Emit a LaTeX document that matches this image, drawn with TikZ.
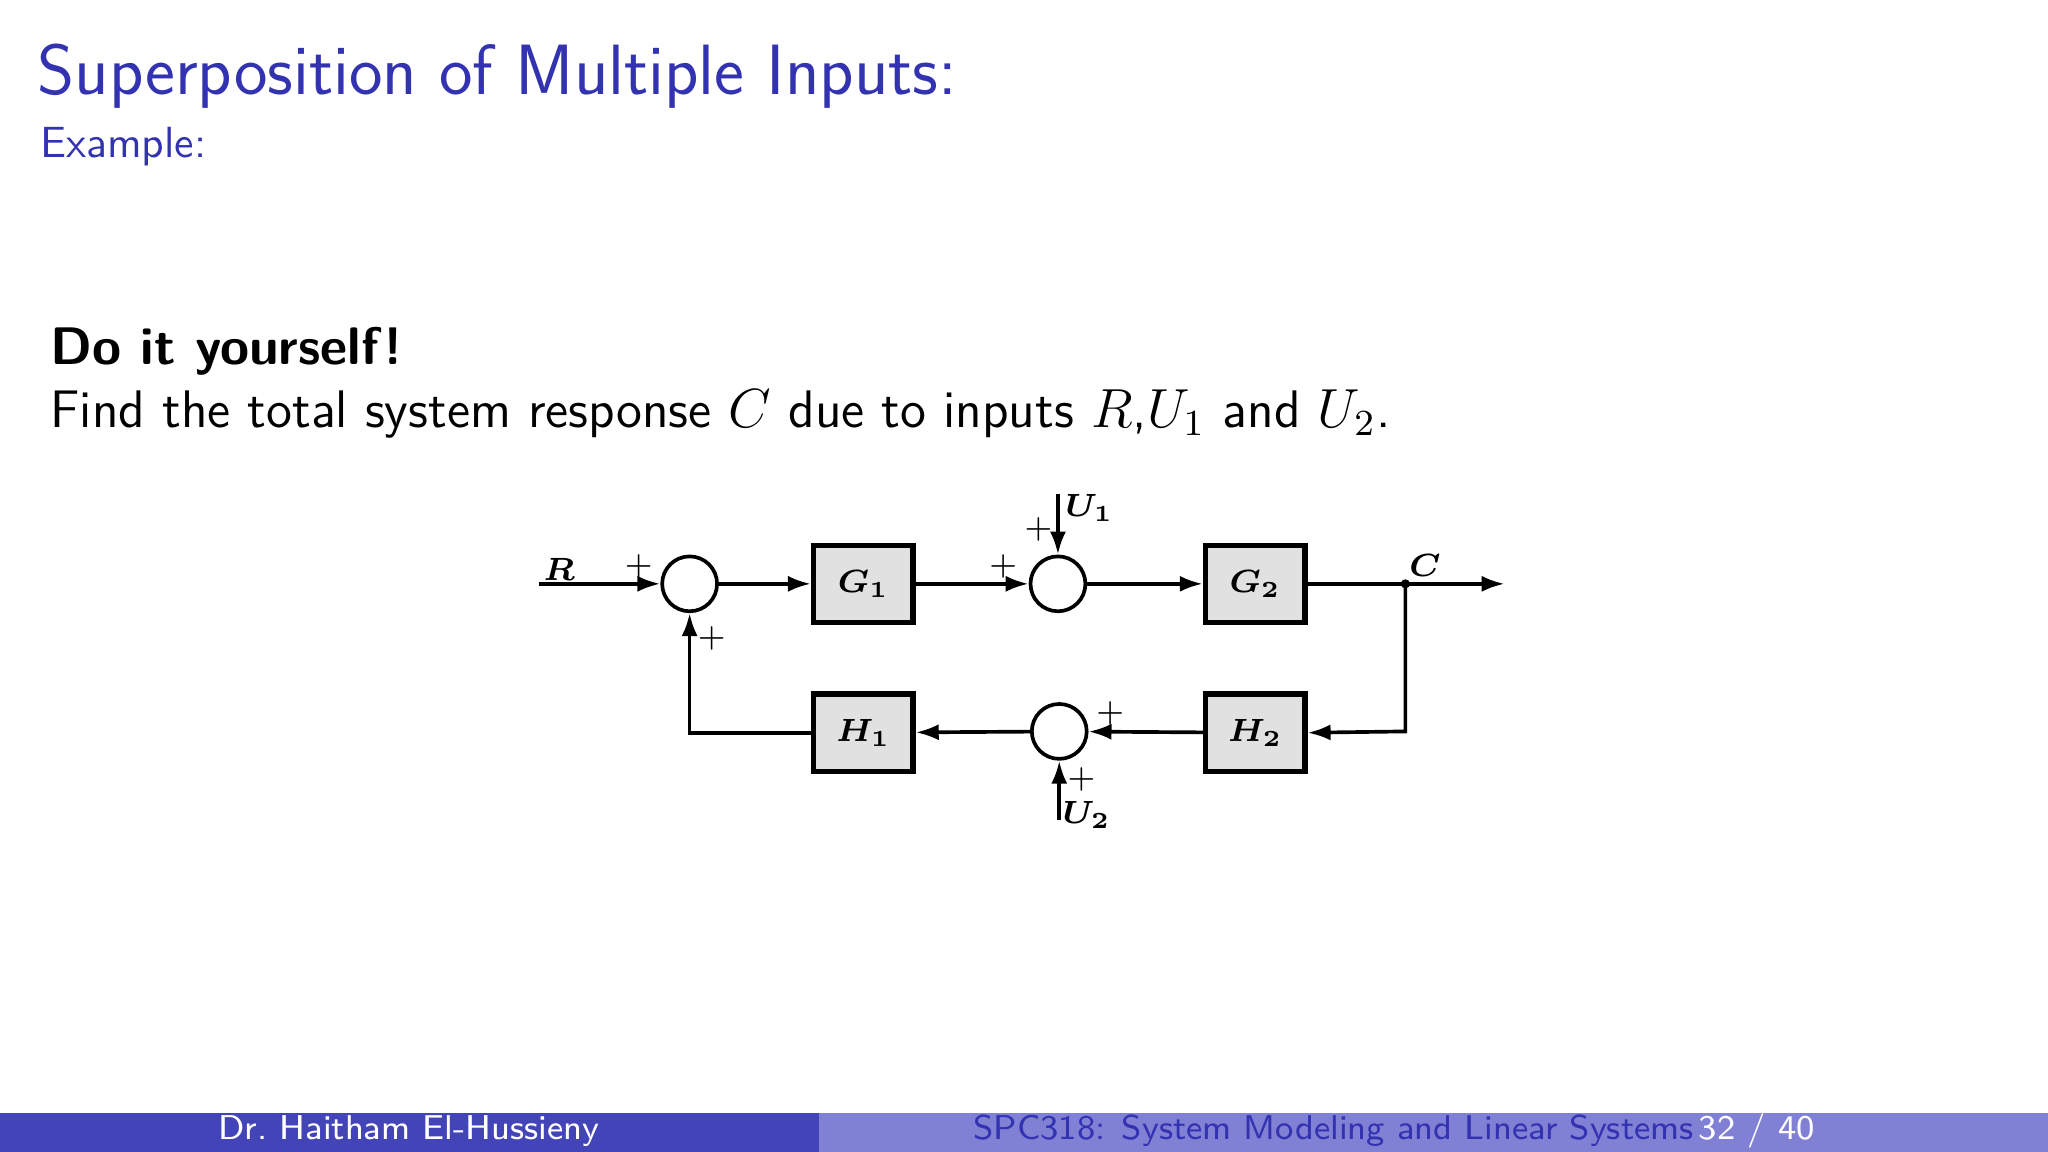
\documentclass[tikz,border=0pt]{standalone}
\usepackage{amsmath,bm}
\usetikzlibrary{arrows.meta}
\definecolor{bt}{RGB}{51,51,178}
\definecolor{fdark}{RGB}{68,68,185}
\definecolor{flight}{RGB}{128,128,212}
\definecolor{boxg}{RGB}{225,225,225}
\begin{document}
\begin{tikzpicture}[x=0.01cm,y=-0.01cm,
  blk/.style={draw,line width=1.2pt,fill=boxg,minimum width=0.76cm,minimum height=0.59cm,inner sep=0pt,font=\fontsize{7}{8}\selectfont},
  sumc/.style={draw,circle,line width=0.8pt,minimum size=0.42cm,inner sep=0pt},
  ar/.style={-{Latex[length=5pt,width=3.5pt]},line width=0.8pt},
  ln/.style={line width=0.8pt},
  lb/.style={font=\fontsize{7}{8}\selectfont,inner sep=0pt},
  pl/.style={font=\fontsize{7}{8}\selectfont,inner sep=0pt}]
\useasboundingbox (0,0) rectangle (1568,882);
\fill[white] (0,0) rectangle (1568,882);
\node[anchor=west,text=bt,font=\sffamily\fontsize{15.5}{18}\selectfont,inner sep=0pt] (title) at (28,58) {Superposition of Multiple Inputs:};
\node[anchor=west,text=bt,font=\sffamily\fontsize{9.5}{11}\selectfont,inner sep=0pt] (ex) at (30,112) {Example:};
\node[anchor=west,font=\sffamily\bfseries\fontsize{11.5}{14}\selectfont,inner sep=0pt] (diy) at (38,269) {Do it yourself!};
\node[anchor=west,font=\sffamily\fontsize{11.5}{14}\selectfont,inner sep=0pt] (find) at (38,317) {Find the total system response $C$ due to inputs $R$,$U_1$ and $U_2$.};
% footer
\fill[fdark] (0,852) rectangle (627,882);
\fill[flight] (627,852) rectangle (1568,882);
\node[text=white,font=\sffamily\fontsize{7.5}{9}\selectfont] (auth) at (313,866) {Dr.\ Haitham El-Hussieny};
\node[text=bt,font=\sffamily\fontsize{7.5}{9}\selectfont] (course) at (1021,866) {SPC318: System Modeling and Linear Systems};
\node[text=white,font=\sffamily\fontsize{7.5}{9}\selectfont] (pg) at (1345,866) {32 / 40};
% diagram
\node[sumc] (s1) at (528,447) {};
\node[sumc] (s2) at (810,447) {};
\node[sumc] (s3) at (811,560) {};
\node[blk] (g1) at (661,447) {$\bm{G_1}$};
\node[blk] (g2) at (961,447) {$\bm{G_2}$};
\node[blk] (h1) at (661,561) {$\bm{H_1}$};
\node[blk] (h2) at (961,561) {$\bm{H_2}$};
\coordinate (rin) at (413,447);
\coordinate (br) at (1076,447);
\coordinate (cout) at (1152,447);
\coordinate (brd) at (1076,560);
\coordinate (h1l) at (528,561);
\coordinate (u1) at (810,378);
\coordinate (u2) at (811,628);
\draw[ar] (rin) -- (s1);
\draw[ar] (s1) -- (g1);
\draw[ar] (g1) -- (s2);
\draw[ar] (s2) -- (g2);
\draw[ln] (g2) -- (br);
\draw[ar] (br) -- (cout);
\fill (br) circle (3.5);
\draw[ar] (br) -- (brd) -- (h2.east);
\draw[ar] (h2) -- (s3);
\draw[ar] (s3) -- (h1);
\draw[ar] (h1.west) -- (h1l) -- (s1.south);
\draw[ar] (u1) -- (s2.north);
\draw[ar] (u2) -- (s3.south);
\node[lb] (lr) at (428,436) {$\bm{R}$};
\node[lb] (lc) at (1091,433) {$\bm{C}$};
\node[lb] (lu1) at (834,389) {$\bm{U_1}$};
\node[lb] (lu2) at (832,624) {$\bm{U_2}$};
\node[pl] (p1) at (489,434) {+};
\node[pl] (p2) at (545,489) {+};
\node[pl] (p3) at (768,434) {+};
\node[pl] (p4) at (795,405) {+};
\node[pl] (p5) at (850,546) {+};
\node[pl] (p6) at (828,597) {+};
\end{tikzpicture}
\end{document}
